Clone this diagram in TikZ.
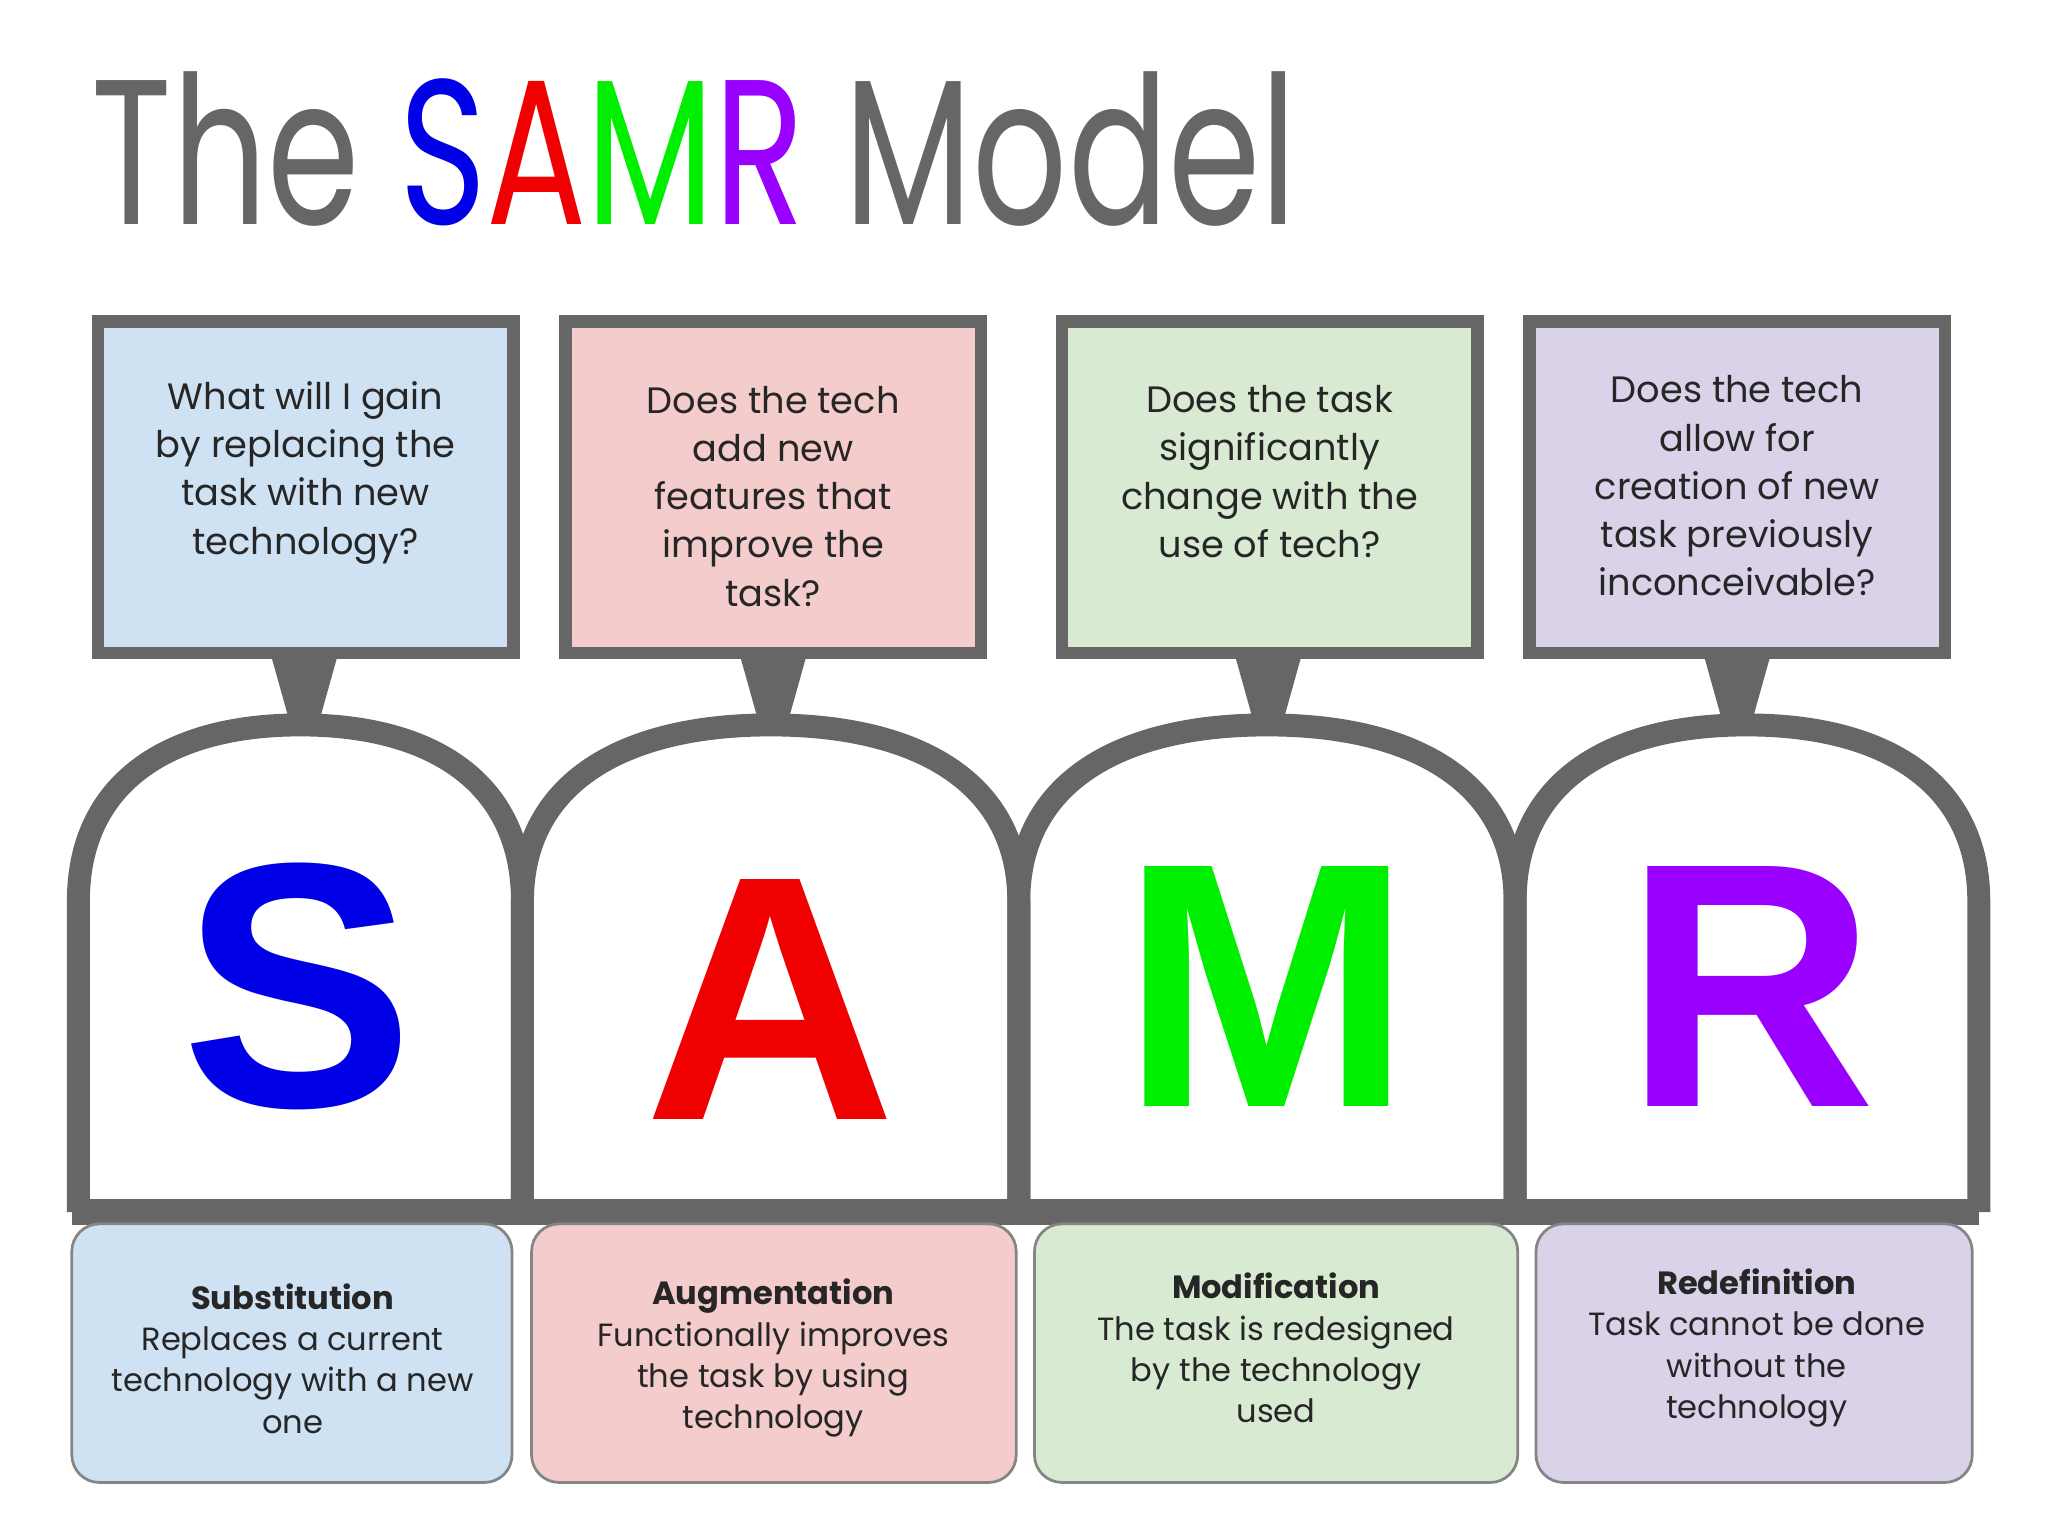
\documentclass[tikz,border=0pt]{standalone}
\usepackage{fontspec}
\setmainfont{Poppins}
\newfontfamily\bigf{Liberation Sans}
\definecolor{frame}{HTML}{666666}
\definecolor{fS}{HTML}{CFE2F3}
\definecolor{fA}{HTML}{F4CCCC}
\definecolor{fM}{HTML}{D9EAD3}
\definecolor{fR}{HTML}{D9D2E9}
\definecolor{cS}{HTML}{0000E6}
\definecolor{cA}{HTML}{F00000}
\definecolor{cM}{HTML}{00EE00}
\definecolor{cR}{HTML}{9900FF}
\begin{document}
\begin{tikzpicture}[x=0.02cm,y=-0.02cm,
  qbox/.style={draw=frame,line width=5.5pt},
  qtext/.style={align=center,font=\fontsize{16}{21}\selectfont,text=black!85},
  dbox/.style={draw=frame!80,line width=1.2pt,rounded corners=12pt},
  dtext/.style={align=center,font=\fontsize{14}{18}\selectfont,text=black!85},
  arch/.style={draw=frame,line width=10pt},
  letter/.style={font=\bigf\bfseries\fontsize{152}{152}\selectfont}]
\useasboundingbox (0,0) rectangle (1568,1176);
% title
\node[anchor=base west,text=frame,font=\fontsize{90}{90}\selectfont,xscale=0.72,inner sep=0pt] (title) at (70,172)
 {The \textcolor{cS}{S}\textcolor{cA}{A}\textcolor{cM}{M}\textcolor{cR}{R} Model};
% arches
\foreach \l/\r/\c in {60/400/230, 400/780/590, 780/1160/970, 1160/1515/1337}{
  \draw[arch] (\l,928) -- (\l,690) .. controls (\l,600) and ({\c-0.6*(\c-\l)},555) .. (\c,555)
     .. controls ({\c+0.6*(\r-\c)},555) and (\r,600) .. (\r,690) -- (\r,928);
}
\draw[arch,line width=11pt] (55,928) -- (1515,928);
% pointers
\foreach \c in {233,592,971,1330}{
  \fill[frame] ({\c-26},500) -- ({\c+26},500) -- ({\c+12},550) -- ({\c-12},550) -- cycle;
}
% question boxes
\path[qbox,fill=fS] (75,246) rectangle (393,500);
\node[qtext] (t1) at (234,362) {What will I gain\\by replacing the\\task with new\\technology?};
\path[qbox,fill=fA] (433,246) rectangle (751,500);
\node[qtext] (t2) at (592,380) {Does the tech\\add new\\features that\\improve the\\task?};
\path[qbox,fill=fM] (813,246) rectangle (1131,500);
\node[qtext] (t3) at (972,361) {Does the task\\significantly\\change with the\\use of tech?};
\path[qbox,fill=fR] (1171,246) rectangle (1489,500);
\node[qtext] (t4) at (1330,372) {Does the tech\\allow for\\creation of new\\task previously\\inconceivable?};
% letters
\node[letter,text=cS] (S) at (228,755) {S};
\node[letter,text=cA] (A) at (590,765) {A};
\node[letter,text=cM] (M) at (970,755) {M};
\node[letter,text=cR] (R) at (1340,755) {R};
% description boxes
\path[dbox,fill=fS] (55,937) rectangle (392,1135);
\node[dtext] (d1) at (224,1040) {\textbf{Substitution}\\Replaces a current\\technology with a new\\one};
\path[dbox,fill=fA] (407,937) rectangle (778,1135);
\node[dtext] (d2) at (592,1040) {\textbf{Augmentation}\\Functionally improves\\the task by using\\technology};
\path[dbox,fill=fM] (792,937) rectangle (1162,1135);
\node[dtext] (d3) at (977,1032) {\textbf{Modification}\\The task is redesigned\\by the technology\\used};
\path[dbox,fill=fR] (1176,937) rectangle (1510,1135);
\node[dtext] (d4) at (1345,1032) {\textbf{Redefinition}\\Task cannot be done\\without the\\technology};
\end{tikzpicture}
\end{document}
